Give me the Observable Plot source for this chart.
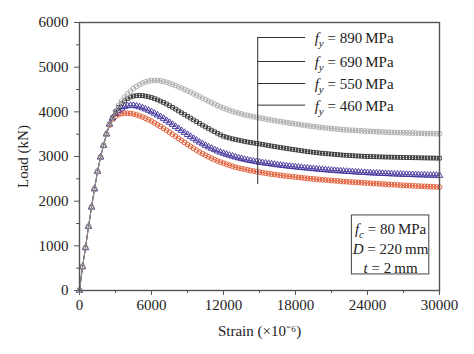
<!DOCTYPE html>
<html>
<head>
<meta charset="utf-8">
<script src="https://cdn.jsdelivr.net/npm/d3@7"></script>
<script src="https://cdn.jsdelivr.net/npm/@observablehq/plot@0.6"></script>
<style>
  html, body { margin: 0; padding: 0; background: #fff; }
</style>
</head>
<body>
<div id="chart"></div>
<script>
// ---- data ----
const strain = d3.range(0, 30001, 250); // ×10^-6, one marker every 250
const rise = [0, 530, 956, 1430, 1863, 2272, 2662, 2984, 3245, 3500]; // 0 … 2250, shared

const load460 = rise.concat([
  3700, 3830,
  3900, 3940, 3960, 3968,
  3968, 3962, 3950, 3932,
  3910, 3884, 3855, 3823,
  3790, 3752, 3712, 3672,
  3630, 3586, 3542, 3496,
  3450, 3405, 3360, 3315,
  3270, 3227, 3184, 3142,
  3100, 3063, 3028, 2993,
  2960, 2930, 2902, 2875,
  2850, 2826, 2803, 2781,
  2760, 2743, 2728, 2714,
  2700, 2687, 2674, 2662,
  2650, 2638, 2627, 2616,
  2605, 2596, 2587, 2578,
  2570, 2562, 2555, 2547,
  2540, 2532, 2525, 2517,
  2510, 2504, 2497, 2491,
  2485, 2479, 2474, 2468,
  2463, 2457, 2452, 2446,
  2440, 2436, 2431, 2427,
  2422, 2418, 2414, 2409,
  2405, 2401, 2396, 2392,
  2388, 2383, 2379, 2374,
  2370, 2366, 2362, 2359,
  2355, 2351, 2347, 2344,
  2340, 2337, 2334, 2331,
  2328, 2324, 2321, 2318,
  2315
]);

const load550 = rise.concat([
  3720, 3860,
  3960, 4030, 4080, 4115,
  4135, 4142, 4140, 4128,
  4110, 4088, 4062, 4032,
  4000, 3965, 3928, 3890,
  3850, 3806, 3761, 3716,
  3670, 3625, 3580, 3535,
  3490, 3447, 3404, 3362,
  3320, 3283, 3247, 3213,
  3180, 3150, 3122, 3095,
  3070, 3047, 3026, 3005,
  2985, 2968, 2951, 2935,
  2920, 2907, 2894, 2882,
  2870, 2860, 2850, 2840,
  2830, 2821, 2812, 2803,
  2795, 2787, 2780, 2772,
  2765, 2758, 2751, 2744,
  2738, 2731, 2725, 2718,
  2712, 2706, 2701, 2695,
  2690, 2685, 2680, 2675,
  2670, 2665, 2661, 2656,
  2652, 2648, 2643, 2639,
  2635, 2632, 2629, 2625,
  2622, 2619, 2616, 2613,
  2610, 2607, 2605, 2602,
  2600, 2597, 2595, 2592,
  2590, 2588, 2586, 2584,
  2582, 2580, 2579, 2577,
  2575
]);

const load690 = rise.concat([
  3720, 3870,
  4000, 4100, 4180, 4245,
  4295, 4330, 4352, 4363,
  4366, 4362, 4352, 4338,
  4320, 4296, 4268, 4240,
  4210, 4175, 4138, 4100,
  4060, 4020, 3980, 3940,
  3900, 3860, 3820, 3780,
  3740, 3702, 3664, 3627,
  3590, 3555, 3520, 3485,
  3452, 3432, 3413, 3396,
  3380, 3366, 3352, 3338,
  3325, 3314, 3303, 3292,
  3282, 3270, 3258, 3246,
  3235, 3224, 3212, 3201,
  3190, 3180, 3170, 3160,
  3150, 3140, 3130, 3120,
  3110, 3102, 3094, 3086,
  3078, 3072, 3066, 3060,
  3054, 3048, 3042, 3036,
  3030, 3026, 3022, 3018,
  3014, 3010, 3007, 3003,
  3000, 2998, 2996, 2994,
  2992, 2990, 2988, 2987,
  2985, 2983, 2982, 2980,
  2979, 2977, 2976, 2974,
  2972, 2971, 2970, 2968,
  2967, 2966, 2965, 2963,
  2962
]);

const load890 = rise.concat([
  3720, 3880,
  4020, 4140, 4240, 4330,
  4400, 4462, 4520, 4568,
  4610, 4643, 4670, 4688,
  4700, 4704, 4702, 4694,
  4680, 4662, 4640, 4616,
  4590, 4561, 4531, 4501,
  4470, 4438, 4405, 4373,
  4340, 4306, 4272, 4238,
  4205, 4173, 4141, 4110,
  4080, 4056, 4033, 4011,
  3990, 3971, 3953, 3936,
  3920, 3905, 3892, 3879,
  3866, 3853, 3840, 3827,
  3815, 3803, 3792, 3781,
  3770, 3760, 3750, 3740,
  3730, 3720, 3710, 3700,
  3690, 3681, 3672, 3664,
  3655, 3648, 3641, 3634,
  3627, 3620, 3614, 3607,
  3600, 3595, 3591, 3586,
  3582, 3578, 3573, 3569,
  3565, 3562, 3559, 3556,
  3553, 3549, 3546, 3543,
  3540, 3538, 3536, 3533,
  3531, 3529, 3527, 3524,
  3522, 3520, 3519, 3517,
  3515, 3513, 3512, 3510,
  3508
]);

const xTicks = [0, 6000, 12000, 18000, 24000, 30000];
const xMinor = [3000, 9000, 15000, 21000, 27000];
const yTicks = [0, 1000, 2000, 3000, 4000, 5000, 6000];
const yMinor = [500, 1500, 2500, 3500, 4500, 5500];

const fyLabels = ["890", "690", "550", "460"];
const legendY = [5664, 5127, 4634, 4150];
const legendX = 14850, legendX2 = 18850, legendTextX = 19600, legendBottom = 2373;

const boxLines = [
  [{t: "f", i: 1}, {t: "c", i: 1, sub: 1}, {t: " = 80\u2009MPa"}],
  [{t: "D", i: 1}, {t: " = 220\u2009mm"}],
  [{t: "t", i: 1}, {t: " = 2\u2009mm"}]
];
const boxTextY = [1370, 925, 495];
const box = {x1: 22700, x2: 29150, y1: 360, y2: 1680};

// ---- build ----
const seriesDefs = [
  {vals: load460, color: "#e0552c", symbol: "circle"},
  {vals: load550, color: "#3d309a", symbol: "triangle"},
  {vals: load690, color: "#333333", symbol: "square"},
  {vals: load890, color: "#a8a8a8", symbol: "circle"}
];
seriesDefs.forEach(s => { if (s.vals.length !== strain.length) throw new Error("length " + s.vals.length); });

const seriesMarks = seriesDefs.flatMap(s => {
  const rows = strain.map((x, i) => ({strain: x, load: s.vals[i]}));
  return [
    Plot.line(rows, {x: "strain", y: "load", stroke: s.color, strokeWidth: 0.8}),
    Plot.dot(rows, {x: "strain", y: "load", symbol: s.symbol, r: s.symbol === "square" ? 2.1 : 2.4,
                    stroke: s.color, strokeWidth: 0.9, fill: "none"})
  ];
});

const legendRows = fyLabels.map((v, i) => ({v, y: legendY[i]}));
const boxRows = boxLines.map((p, i) => ({k: i, y: boxTextY[i]}));

const chart = Plot.plot({
  width: 474, height: 354,
  marginLeft: 79, marginRight: 35, marginTop: 22, marginBottom: 64,
  style: {fontFamily: "'Liberation Serif', 'Times New Roman', serif", fontSize: "15px", background: "#fff", color: "#333"},
  x: {domain: [0, 30000]},
  y: {domain: [0, 6000]},
  marks: [
    Plot.axisX({ticks: xTicks, tickSize: 5, tickPadding: 4, tickFormat: "d", stroke: "#555", fill: "#222",
                label: "Strain (×10⁻⁶)", labelAnchor: "center", labelArrow: "none", labelOffset: 45}),
    Plot.axisX({ticks: xMinor, tickSize: 3, tickFormat: () => "", stroke: "#555", label: null}),
    Plot.axisY({ticks: yTicks, tickSize: 5, tickPadding: 6, tickFormat: "d", stroke: "#555", fill: "#222",
                label: "Load (kN)", labelAnchor: "center", labelArrow: "none", labelOffset: 62}),
    Plot.axisY({ticks: yMinor, tickSize: 3, tickFormat: () => "", stroke: "#555", label: null}),
    ...seriesMarks,
    Plot.ruleX([legendX], {y1: legendBottom, y2: legendY[0], stroke: "#333", strokeWidth: 1}),
    Plot.ruleY(legendY, {x1: legendX, x2: legendX2, stroke: "#333", strokeWidth: 1}),
    Plot.text(legendRows, {x: legendTextX, y: "y", text: "v", textAnchor: "start", dy: 1, fontSize: 15, fill: "#222", className: "fylab"}),
    Plot.rect([box], {x1: "x1", x2: "x2", y1: "y1", y2: "y2", fill: "#fff", stroke: "#444", strokeWidth: 1}),
    Plot.text(boxRows, {x: (box.x1 + box.x2) / 2, y: "y", text: d => String(d.k), textAnchor: "middle", fontSize: 15, fill: "#222", className: "boxlab"}),
    Plot.frame({stroke: "#555", strokeWidth: 1.4})
  ]
});

function rich(selector, partsFor) {
  d3.select(chart).selectAll(selector + " text").each(function(_, i) {
    const t = d3.select(this);
    t.text("");
    let shifted = false;
    for (const p of partsFor(i)) {
      const ts = t.append("tspan").text(p.t);
      if (p.i) ts.attr("font-style", "italic");
      if (p.sub) { ts.attr("dy", "4").attr("font-size", "11px"); shifted = true; }
      else if (shifted) { ts.attr("dy", "-4"); shifted = false; }
    }
  });
}
rich(".fylab", i => [{t: "f", i: 1}, {t: "y", i: 1, sub: 1}, {t: " = " + fyLabels[i] + "\u2009MPa"}]);
rich(".boxlab", i => boxLines[i]);

document.getElementById("chart").appendChild(chart);
</script>
</body>
</html>
